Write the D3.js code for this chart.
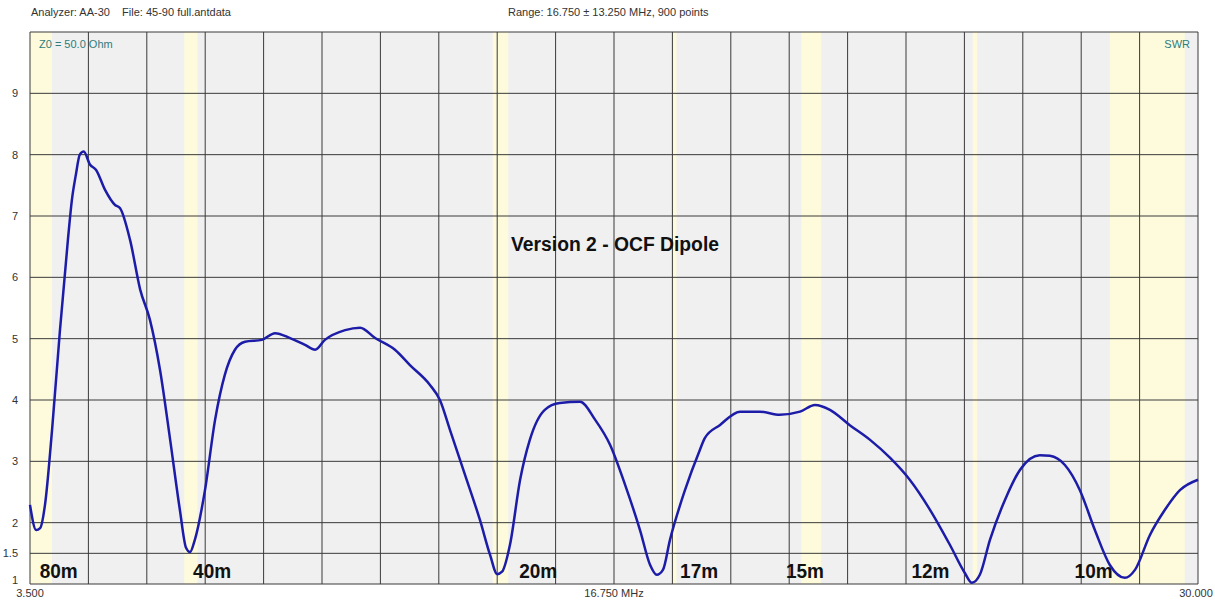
<!DOCTYPE html>
<html><head><meta charset="utf-8">
<script src="https://cdn.jsdelivr.net/npm/d3@7"></script>
<style>body{margin:0;background:#fff;font-family:"Liberation Sans",Arial,sans-serif;}</style>
</head><body><svg id="chart"></svg>
<script>
const freqs = [3.5,3.64,3.73,3.84,4.0,4.18,4.36,4.45,4.54,4.63,4.72,4.86,5.0,5.2,5.43,5.54,5.77,6.0,6.22,6.45,6.68,6.9,7.04,7.13,7.24,7.47,7.7,7.92,8.15,8.38,8.76,9.06,9.4,9.74,9.97,10.19,10.65,10.99,11.33,11.78,12.12,12.57,12.8,13.03,13.37,13.71,13.94,14.1,14.21,14.39,14.62,14.84,15.18,15.52,15.98,16.32,16.66,17.0,17.34,17.57,17.72,17.86,18.02,18.36,18.7,18.81,19.15,19.61,20.06,20.51,20.97,21.31,21.65,22.1,22.56,23.01,23.46,23.92,24.37,24.71,24.87,25.05,25.28,25.62,25.96,26.41,26.64,26.98,27.32,27.66,28.0,28.34,28.57,28.91,29.25,29.59,30.0];
const swr = [2.29,1.88,1.91,2.29,3.51,5.14,6.61,7.26,7.67,8.0,8.05,7.84,7.75,7.43,7.18,7.13,6.61,5.8,5.31,4.49,3.35,2.21,1.59,1.52,1.72,2.53,3.68,4.41,4.82,4.95,4.98,5.09,5.01,4.9,4.82,4.98,5.14,5.18,5.01,4.82,4.57,4.25,4.0,3.51,2.78,2.04,1.47,1.16,1.2,1.64,2.7,3.35,3.84,3.95,3.97,3.68,3.27,2.62,1.88,1.31,1.15,1.23,1.72,2.53,3.19,3.38,3.59,3.81,3.81,3.76,3.81,3.92,3.84,3.59,3.35,3.06,2.7,2.21,1.64,1.18,1.02,1.15,1.72,2.37,2.86,3.1,3.09,2.94,2.53,1.88,1.31,1.1,1.23,1.8,2.21,2.53,2.7];
const bands = [[3.5,4.0],[7.0,7.3],[14.0,14.35],[18.068,18.168],[21.0,21.45],[24.89,24.99],[28.0,29.7]];
const bandNames = ["80m","40m","20m","17m","15m","12m","10m"];
const bandLabelFreq = [3.72,7.2,14.6,18.25,20.65,23.5,27.2];
const yTicks = [1,1.5,2,3,4,5,6,7,8,9];

const W = 1215, H = 600;
const m = {left:30, right:1198, top:32, bottom:584};
const svg = d3.select('#chart').attr('width', W).attr('height', H);
const x = d3.scaleLinear().domain([3.5,30]).range([m.left, m.right]);
const y = d3.scaleLinear().domain([1,10]).range([m.bottom, m.top]);

svg.append('rect').attr('x', m.left).attr('y', m.top)
  .attr('width', m.right - m.left).attr('height', m.bottom - m.top).attr('fill', '#f0f0f0');

svg.append('g').selectAll('rect').data(bands).enter().append('rect')
  .attr('x', d => x(d[0])).attr('width', d => Math.max(3, x(d[1]) - x(d[0])))
  .attr('y', m.top).attr('height', m.bottom - m.top).attr('fill', '#fdfbdc');

// grid
const xGrid = d3.range(21).map(i => 3.5 + i * 1.325);
svg.append('g').selectAll('line').data(xGrid).enter().append('line')
  .attr('x1', d => x(d)).attr('x2', d => x(d)).attr('y1', m.top).attr('y2', m.bottom)
  .attr('stroke', '#3a3a3a').attr('stroke-width', 1);
svg.append('g').selectAll('line').data(yTicks.concat([10])).enter().append('line')
  .attr('x1', m.left).attr('x2', m.right).attr('y1', d => y(d)).attr('y2', d => y(d))
  .attr('stroke', '#3a3a3a').attr('stroke-width', 1);

svg.append('g').selectAll('text').data(yTicks).enter().append('text')
  .attr('x', 18).attr('y', d => y(d) + (d === 1 ? 0 : 4)).attr('text-anchor', 'end')
  .attr('font-size', 11).attr('fill', '#333').text(d => d);

const line = d3.line().x((d, i) => x(freqs[i])).y(d => y(d)).curve(d3.curveMonotoneX);
svg.append('path').datum(swr).attr('d', line).attr('fill', 'none')
  .attr('stroke', '#1c1ca8').attr('stroke-width', 2.5);

svg.append('g').selectAll('text').data(bandNames).enter().append('text')
  .attr('x', (d, i) => x(bandLabelFreq[i])).attr('y', 578)
  .attr('font-size', 20).attr('font-weight', 'bold').attr('fill', '#111')
  .attr('textLength', 38).attr('lengthAdjust', 'spacingAndGlyphs')
  .text(d => d);

svg.append('text').attr('x', 615).attr('y', 251).attr('text-anchor', 'middle')
  .attr('font-size', 20).attr('font-weight', 'bold').attr('fill', '#111')
  .attr('textLength', 208).attr('lengthAdjust', 'spacingAndGlyphs')
  .text('Version 2 - OCF Dipole');

const txt = (tx, ty, s, opt = {}) => svg.append('text').attr('x', tx).attr('y', ty)
  .attr('font-size', 11).attr('fill', opt.fill || '#333').attr('text-anchor', opt.anchor || 'start').text(s);
txt(31, 16, 'Analyzer: AA-30    File: 45-90 full.antdata').attr('xml:space', 'preserve');
txt(508, 16, 'Range: 16.750 ± 13.250 MHz, 900 points');
txt(39, 48, 'Z0 = 50.0 Ohm', {fill: '#2e7c7c'});
txt(1190, 48, 'SWR', {fill: '#2e7c7c', anchor: 'end'});
txt(30, 597, '3.500', {anchor: 'middle'});
txt(614, 597, '16.750 MHz', {anchor: 'middle'});
txt(1196, 597, '30.000', {anchor: 'middle'});
</script></body></html>
